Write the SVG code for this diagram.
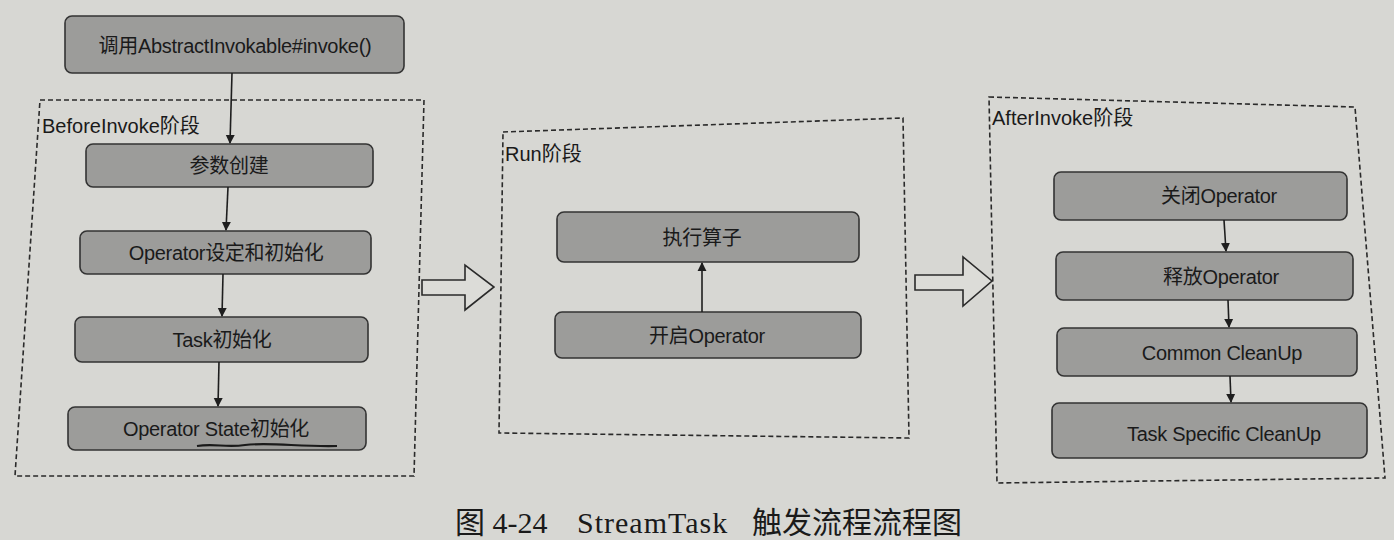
<svg xmlns="http://www.w3.org/2000/svg" width="1394" height="540" viewBox="0 0 1394 540">
<defs>
<marker id="ah" viewBox="0 0 10 10" refX="9" refY="5" markerWidth="9" markerHeight="10" orient="auto" markerUnits="userSpaceOnUse">
<path d="M0,0 L10,5 L0,10 Z" fill="#1e1e1e"/>
</marker>
<style>
.node rect{fill:#9c9c9a;stroke:#333;stroke-width:1.6}
.node text{font-family:"Liberation Sans","Noto Sans CJK SC",sans-serif;font-size:20px;fill:#1a1a1a;text-anchor:middle;letter-spacing:-0.3px}
.grp{fill:none;stroke:#2a2a2a;stroke-width:1.6;stroke-dasharray:5 3}
.lbl{font-family:"Liberation Sans","Noto Sans CJK SC",sans-serif;font-size:20px;fill:#1a1a1a}
.conn line{stroke:#1e1e1e;stroke-width:1.6;marker-end:url(#ah)}
.big{fill:#dcdcd8;stroke:#2a2a2a;stroke-width:1.6;stroke-linejoin:miter}
</style>
</defs>
<rect width="1394" height="540" fill="#d7d7d3"/>

<g id="group-before">
<polygon class="grp" points="40,100 424,100 414,476 15,476"/>
<text class="lbl" x="42" y="133">BeforeInvoke阶段</text>
</g>
<g id="group-run">
<polygon class="grp" points="503,132 903,118 909,438 499,433"/>
<text class="lbl" x="505" y="161">Run阶段</text>
</g>
<g id="group-after">
<polygon class="grp" points="989,97 1355,107 1385,478 997,483"/>
<text class="lbl" x="992" y="125">AfterInvoke阶段</text>
</g>

<g id="n-invoke" class="node"><rect x="65" y="16" width="339" height="57" rx="7"/><text x="235" y="53">调用AbstractInvokable#invoke()</text></g>
<g id="n-param" class="node"><rect x="86" y="144" width="287" height="43" rx="7"/><text x="229" y="173">参数创建</text></g>
<g id="n-opinit" class="node"><rect x="80" y="231" width="291" height="43" rx="7"/><text x="226" y="260">Operator设定和初始化</text></g>
<g id="n-taskinit" class="node"><rect x="75" y="317" width="293" height="45" rx="7"/><text x="222" y="347">Task初始化</text></g>
<g id="n-stateinit" class="node"><rect x="68" y="407" width="298" height="43" rx="7"/><text x="216" y="436">Operator State初始化</text>
<path d="M197,446 C215,443 225,448 245,445 C270,442 300,447 337,446" fill="none" stroke="#1a1a1a" stroke-width="2.2"/></g>

<g id="n-exec" class="node"><rect x="557" y="212" width="302" height="50" rx="7"/><text x="702" y="245">执行算子</text></g>
<g id="n-open" class="node"><rect x="555" y="312" width="306" height="46" rx="7"/><text x="707" y="343">开启Operator</text></g>

<g id="n-close" class="node"><rect x="1054" y="172" width="293" height="48" rx="7"/><text x="1219" y="203">关闭Operator</text></g>
<g id="n-release" class="node"><rect x="1056" y="252" width="297" height="48" rx="7"/><text x="1221" y="284">释放Operator</text></g>
<g id="n-common" class="node"><rect x="1057" y="328" width="300" height="48" rx="7"/><text x="1222" y="360">Common CleanUp</text></g>
<g id="n-specific" class="node"><rect x="1052" y="403" width="315" height="55" rx="7"/><text x="1224" y="441">Task Specific CleanUp</text></g>

<g id="connectors" class="conn">
<line x1="232" y1="73" x2="230" y2="143"/>
<line x1="228" y1="187" x2="226" y2="230"/>
<line x1="223" y1="274" x2="222" y2="316"/>
<line x1="219" y1="362" x2="218" y2="406"/>
<line x1="702" y1="312" x2="702" y2="263"/>
<line x1="1224" y1="220" x2="1226" y2="251"/>
<line x1="1228" y1="300" x2="1229" y2="327"/>
<line x1="1230" y1="376" x2="1231" y2="402"/>
<polygon class="big" points="422,280 465,280 465,265 494,287 465,310 465,295 422,295"/>
<polygon class="big" points="915,275 963,275 963,257 992,281 963,306 963,290 915,290"/>
</g>

<text y="533" font-family="'Liberation Serif','Noto Sans CJK SC',serif" font-size="30" fill="#1a1a1a"><tspan x="455">图 4-24</tspan><tspan x="577" letter-spacing="1">StreamTask</tspan><tspan x="752">触发流程流程图</tspan></text>
</svg>
